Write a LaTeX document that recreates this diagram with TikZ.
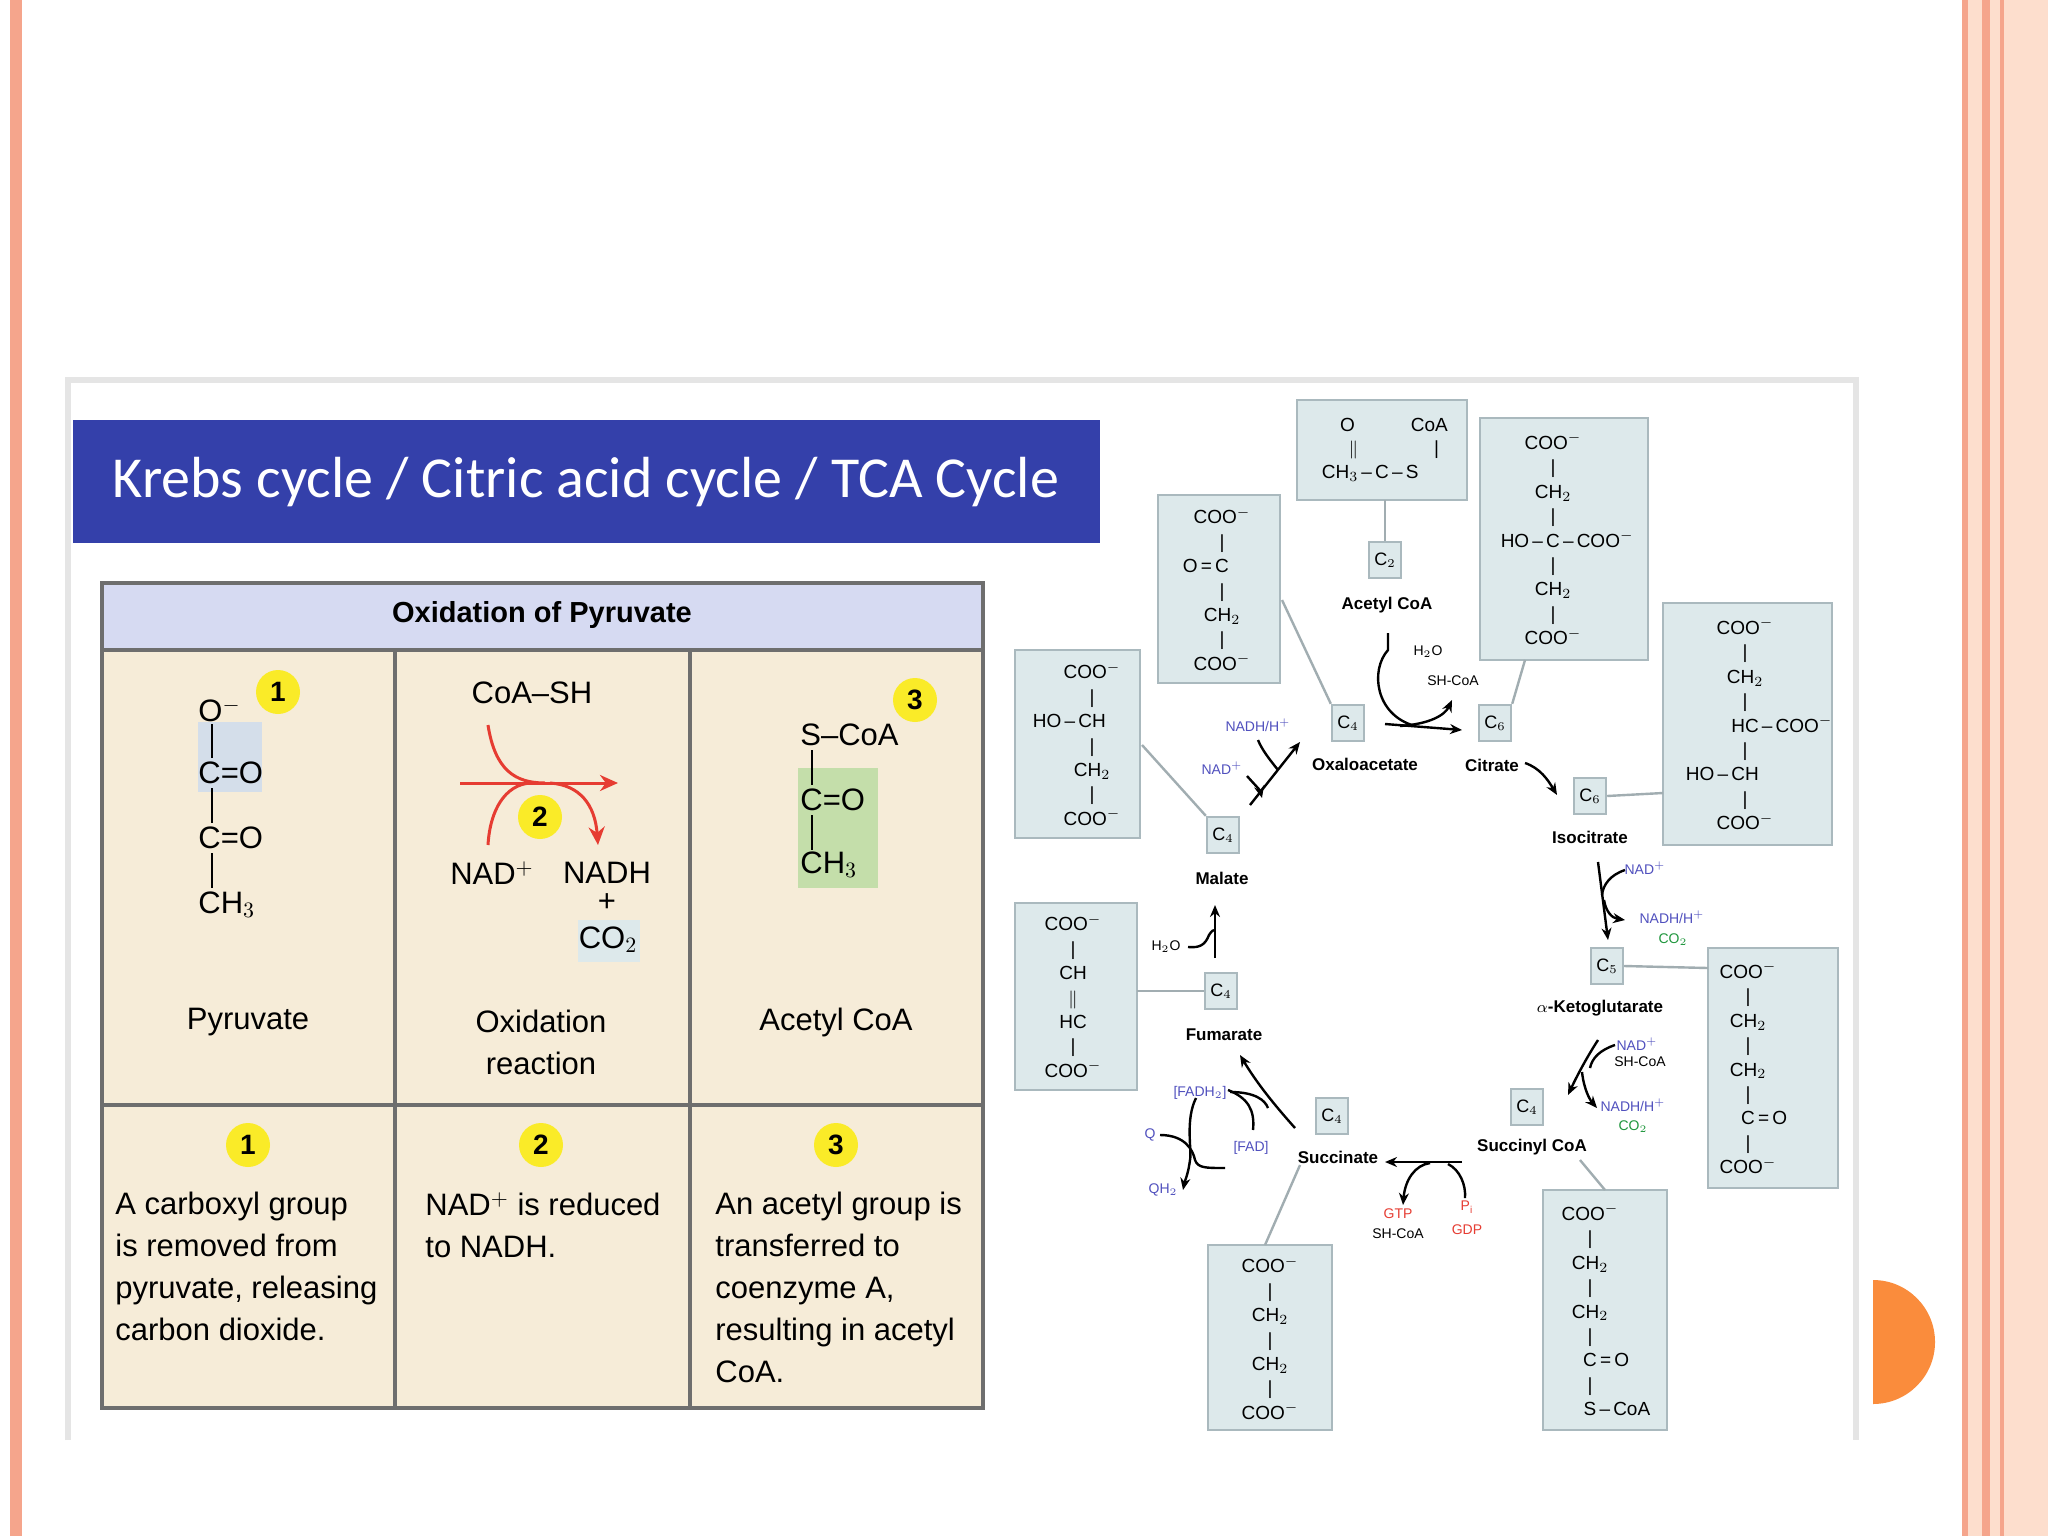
\documentclass[tikz,border=0pt]{standalone}
\usepackage{fontspec}
\setmainfont{Liberation Sans}
\newfontfamily\titlefont{Carlito}
\usetikzlibrary{arrows.meta}
\definecolor{salmon}{RGB}{245,165,140}
\definecolor{peach}{RGB}{253,222,205}
\definecolor{dorange}{RGB}{250,140,60}
\definecolor{titleblue}{RGB}{52,64,170}
\definecolor{tbg}{RGB}{246,236,216}
\definecolor{thead}{RGB}{214,218,242}
\definecolor{tline}{RGB}{110,110,110}
\definecolor{ylw}{RGB}{250,235,40}
\definecolor{bfill}{RGB}{221,233,235}
\definecolor{bdraw}{RGB}{170,185,190}
\definecolor{cblue}{RGB}{80,80,190}
\definecolor{cgreen}{RGB}{30,150,60}
\definecolor{cred}{RGB}{230,60,50}
\definecolor{hlgray}{RGB}{212,222,234}
\definecolor{hlgreen}{RGB}{196,222,170}
\newcommand\Lb[1]{\llap{#1\,--\,}}
\newcommand\Rb[1]{\rlap{\,--\,#1}}
\newcommand\Rdb[1]{\rlap{\,=\,#1}}
\begin{document}
\begin{tikzpicture}[x=0.5pt,y=-0.5pt,
  box/.style={draw=bdraw,fill=bfill,line width=1.2pt},
  mol/.style={align=center,font=\fontsize{9.5}{12.2}\selectfont,inner sep=0pt},
  cb/.style={draw=bdraw,fill=bfill,line width=1.2pt,minimum width=16pt,minimum height=18pt,inner sep=0pt,font=\fontsize{9}{10}\selectfont},
  lab/.style={font=\fontsize{8.5}{10}\bfseries\selectfont,inner sep=1pt},
  sm/.style={font=\fontsize{7}{8}\selectfont,inner sep=1pt,align=center},
  link/.style={draw=bdraw!80!gray,line width=1.2pt},
  rx/.style={-{Stealth[length=6pt,width=5pt]},line width=1.2pt},
  rl/.style={line width=1.2pt},
  yc/.style={circle,fill=ylw,inner sep=0pt,minimum size=22pt,font=\fontsize{14}{14}\bfseries\selectfont},
  tt/.style={font=\fontsize{15.5}{21}\selectfont,align=left,anchor=north west,inner sep=0pt},
  tc/.style={font=\fontsize{15.5}{21}\selectfont,align=center,inner sep=0pt}]
\useasboundingbox (0,0) rectangle (2048,1536);
\fill[white] (0,0) rectangle (2048,1536);
% slide decoration
\fill[salmon] (10,0) rectangle (22,1536);
\fill[peach] (1962,0) rectangle (2048,1536);
\fill[salmon] (1962,0) rectangle (1968,1536);
\fill[salmon] (1982,0) rectangle (1990,1536);
\fill[salmon] (2000,0) rectangle (2004,1536);
\fill[dorange] (1873,1280) arc (-90:90:62) -- cycle;
% panel
\draw[gray!20,line width=3pt] (68,1440) -- (68,380) -- (1856,380) -- (1856,1440);
\fill[titleblue] (73,420) rectangle (1100,543);
\node[text=white,font=\titlefont\fontsize{29}{30}\selectfont] (title) at (586,482) {Krebs cycle / Citric acid cycle / TCA Cycle};
% table
\fill[tbg] (102,583) rectangle (983,1408);
\fill[thead] (102,583) rectangle (983,650);
\draw[tline,line width=2pt] (102,583) rectangle (983,1408);
\draw[tline,line width=2pt] (102,650) -- (983,650) (102,1105) -- (983,1105) (395,650) -- (395,1408) (690,650) -- (690,1408);
\node[font=\fontsize{14.5}{16}\bfseries\selectfont] (thd) at (542,615) {Oxidation of Pyruvate};
% col 1
\fill[hlgray] (198,722) rectangle (262,792);
\node[tc,anchor=west] (p1) at (198,710) {O$^{-}$};
\node[tc,anchor=west] (p2) at (198,773) {C=O};
\node[tc,anchor=west] (p3) at (198,838) {C=O};
\node[tc,anchor=west] (p4) at (198,905) {CH$_3$};
\draw[line width=1pt] (212,724) -- (212,758) (212,788) -- (212,823) (212,853) -- (212,888);
\node[yc] (y1a) at (278,692) {1};
\node[tc] (pyr) at (248,1022) {Pyruvate};
% col 2
\node[tc] (coash) at (532,693) {CoA--SH};
\draw[cred,line width=1.5pt,-{Stealth[length=9pt,width=8pt]}] (460,783) -- (618,783);
\draw[cred,line width=1.5pt] (488,725) .. controls (495,770) and (515,783) .. (545,783);
\draw[cred,line width=1.5pt,-{Stealth[length=9pt,width=8pt]}] (550,783) .. controls (580,785) and (595,805) .. (598,845);
\draw[cred,line width=1.5pt] (530,783) .. controls (505,785) and (490,810) .. (488,845);
\node[yc] (y2a) at (540,817) {2};
\node[tc] (nad) at (492,873) {NAD$^{+}$};
\node[tc] (nadh) at (607,873) {NADH};
\node[tc] (plus) at (607,903) {+};
\fill[bfill] (578,920) rectangle (640,962);
\node[tc] (co2) at (608,940) {CO$_2$};
\node[tc] (oxr) at (541,1042) {Oxidation\\reaction};
% col 3
\fill[hlgreen] (798,768) rectangle (878,888);
\node[tc,anchor=west] (a1) at (800,735) {S--CoA};
\node[tc,anchor=west] (a2) at (800,800) {C=O};
\node[tc,anchor=west] (a3) at (800,865) {CH$_3$};
\draw[line width=1pt] (812,750) -- (812,785) (812,815) -- (812,850);
\node[yc] (y3a) at (915,700) {3};
\node[tc] (acoa) at (836,1022) {Acetyl CoA};
% row 2
\node[yc] (y1b) at (248,1145) {1};
\node[yc] (y2b) at (541,1145) {2};
\node[yc] (y3b) at (836,1145) {3};
\node[tt] (t1) at (115,1192) {A carboxyl group\\is removed from\\pyruvate, releasing\\carbon dioxide.};
\node[tt] (t2) at (425,1192) {NAD$^{+}$ is reduced\\to NADH.};
\node[tt] (t3) at (715,1192) {An acetyl group is\\transferred to\\coenzyme A,\\resulting in acetyl\\CoA.};
% ===== cycle =====
\draw[box] (1297,400) rectangle (1467,500);
\node[mol] (macoa) at (1382,450) {\makebox[0pt]{\hspace{12pt}O\hspace{28pt}CoA}\\[-1pt]\makebox[0pt]{\hspace{12pt}$\|$\hspace{38pt}|}\\\Lb{CH$_3$}C\Rb{S}};
\draw[box] (1158,495) rectangle (1280,683);
\node[mol] (moxa) at (1222,589) {COO$^-$\\|\\\llap{O\,=\,}C\\|\\CH$_2$\\|\\COO$^-$};
\draw[box] (1480,418) rectangle (1648,660);
\node[mol] (mcit) at (1553,539) {COO$^-$\\|\\CH$_2$\\|\\\Lb{HO}C\Rb{COO$^-$}\\|\\CH$_2$\\|\\COO$^-$};
\draw[box] (1663,603) rectangle (1832,845);
\node[mol] (miso) at (1745,724) {COO$^-$\\|\\CH$_2$\\|\\HC\Rb{COO$^-$}\\|\\\Lb{HO}CH\\|\\COO$^-$};
\draw[box] (1015,650) rectangle (1140,838);
\node[mol] (mmal) at (1092,744) {COO$^-$\\|\\\Lb{HO}CH\\|\\CH$_2$\\|\\COO$^-$};
\draw[box] (1015,903) rectangle (1137,1090);
\node[mol] (mfum) at (1073,996) {COO$^-$\\|\\CH\\$\|$\\HC\\|\\COO$^-$};
\draw[box] (1708,948) rectangle (1838,1188);
\node[mol] (makg) at (1748,1068) {COO$^-$\\|\\CH$_2$\\|\\CH$_2$\\|\\C\Rdb{O}\\|\\COO$^-$};
\draw[box] (1208,1245) rectangle (1332,1430);
\node[mol] (msuc) at (1270,1338) {COO$^-$\\|\\CH$_2$\\|\\CH$_2$\\|\\COO$^-$};
\draw[box] (1543,1190) rectangle (1667,1430);
\node[mol] (mscoa) at (1590,1310) {COO$^-$\\|\\CH$_2$\\|\\CH$_2$\\|\\C\Rdb{O}\\|\\S\Rb{CoA}};
% small C boxes
\node[cb] (c2) at (1385,560) {C$_2$};
\node[cb] (c4o) at (1348,723) {C$_4$};
\node[cb] (c6c) at (1495,723) {C$_6$};
\node[cb] (c6i) at (1590,796) {C$_6$};
\node[cb] (c5) at (1607,966) {C$_5$};
\node[cb] (c4sc) at (1527,1107) {C$_4$};
\node[cb] (c4s) at (1332,1116) {C$_4$};
\node[cb] (c4f) at (1221,991) {C$_4$};
\node[cb] (c4m) at (1223,835) {C$_4$};
% links
\draw[link] (1385,500) -- (c2.north);
\draw[link] (1282,600) -- (c4o.north west);
\draw[link] (1525,660) -- (c6c.north east);
\draw[link] (1663,793) -- (c6i.east);
\draw[link] (1142,745) -- (c4m.north west);
\draw[link] (1137,991) -- (c4f.west);
\draw[link] (1708,968) -- (c5.east);
\draw[link] (1605,1190) -- (1580,1160);
\draw[link] (1265,1245) -- (1300,1165);
% labels
\node[lab] (lacoa) at (1387,605) {Acetyl CoA};
\node[lab] (loxa) at (1365,764) {Oxaloacetate};
\node[lab] (lcit) at (1492,765) {Citrate};
\node[lab] (liso) at (1590,837) {Isocitrate};
\node[lab] (lmal) at (1222,878) {Malate};
\node[lab] (lfum) at (1224,1035) {Fumarate};
\node[lab] (lakg) at (1600,1008) {$\alpha$-Ketoglutarate};
\node[lab] (lscoa) at (1532,1147) {Succinyl CoA};
\node[lab] (lsuc) at (1338,1157) {Succinate};
% 1: oxaloacetate -> citrate
\draw[rx] (1385,724) -- (1462,730);
\draw[rl] (1388,633) -- (1388,650) .. controls (1370,670) and (1375,715) .. (1415,726);
\draw[rx] (1400,726) .. controls (1430,724) and (1445,715) .. (1452,700);
\node[sm] (h2o1) at (1428,652) {H$_2$O};
\node[sm] (shcoa1) at (1453,681) {SH-CoA};
% 2: citrate -> isocitrate
\draw[rx] (1525,763) .. controls (1540,768) and (1548,780) .. (1557,795);
% 3: isocitrate -> akg
\draw[rx] (1598,862) -- (1608,940);
\draw[rl] (1625,870) .. controls (1610,875) and (1603,885) .. (1602,895);
\draw[rx] (1604,900) .. controls (1606,912) and (1612,918) .. (1625,920);
\node[sm,text=cblue] (nad3) at (1645,868) {NAD$^+$};
\node[sm,text=cblue] (nadh3) at (1672,917) {NADH/H$^+$};
\node[sm,text=cgreen] (co23) at (1673,940) {CO$_2$};
% 4: akg -> succinyl CoA
\draw[rx] (1598,1040) .. controls (1585,1060) and (1575,1080) .. (1568,1095);
\draw[rl] (1615,1045) .. controls (1600,1050) and (1592,1058) .. (1590,1068);
\draw[rx] (1582,1072) .. controls (1584,1090) and (1590,1100) .. (1597,1108);
\node[sm,text=cblue] (nad4) at (1637,1044) {NAD$^+$};
\node[sm] (shcoa4) at (1640,1062) {SH-CoA};
\node[sm,text=cblue] (nadh4) at (1633,1105) {NADH/H$^+$};
\node[sm,text=cgreen] (co24) at (1633,1127) {CO$_2$};
% 5: succinyl CoA -> succinate
\draw[rx] (1462,1162) -- (1385,1162);
\draw[rl] (1448,1164) .. controls (1460,1170) and (1466,1185) .. (1465,1198);
\draw[rx] (1430,1163) .. controls (1415,1165) and (1405,1180) .. (1403,1205);
\node[sm,text=cred] (gtp) at (1398,1214) {GTP};
\node[sm] (shcoa5) at (1398,1234) {SH-CoA};
\node[sm,text=cred] (pi) at (1467,1207) {P$_\mathrm{i}$};
\node[sm,text=cred] (gdp) at (1467,1230) {GDP};
% 6: succinate -> fumarate
\draw[rx] (1295,1128) .. controls (1270,1100) and (1255,1080) .. (1240,1055);
\draw[rl] (1228,1090) .. controls (1248,1098) and (1255,1110) .. (1253,1130);
\draw[rl] (1268,1108) .. controls (1265,1100) and (1255,1092) .. (1230,1092);
\node[sm,text=cblue] (fadh2) at (1200,1093) {[FADH$_2$]};
\node[sm,text=cblue] (fad) at (1251,1148) {[FAD]};
\draw[rl] (1160,1135) .. controls (1185,1135) and (1193,1150) .. (1195,1160) .. controls (1198,1168) and (1205,1168) .. (1225,1168);
\draw[rx] (1196,1098) .. controls (1185,1120) and (1192,1150) .. (1190,1160) .. controls (1188,1175) and (1185,1180) .. (1183,1190);
\node[sm,text=cblue] (q) at (1150,1135) {Q};
\node[sm,text=cblue] (qh2) at (1163,1190) {QH$_2$};
% 7: fumarate -> malate
\draw[rx] (1215,958) -- (1215,905);
\draw[rl] (1188,947) .. controls (1200,948) and (1205,945) .. (1209,935) .. controls (1212,930) and (1214,930) .. (1215,930);
\node[sm] (h2o7) at (1166,947) {H$_2$O};
% 8: malate -> oxaloacetate
\draw[rx] (1250,805) -- (1300,742);
\draw[rl] (1278,770) .. controls (1270,760) and (1262,750) .. (1258,740);
\draw[rx] (1247,776) .. controls (1255,785) and (1260,790) .. (1262,798);
\node[sm,text=cblue] (nadh8) at (1258,725) {NADH/H$^+$};
\node[sm,text=cblue] (nad8) at (1222,768) {NAD$^+$};
\end{tikzpicture}
\end{document}
